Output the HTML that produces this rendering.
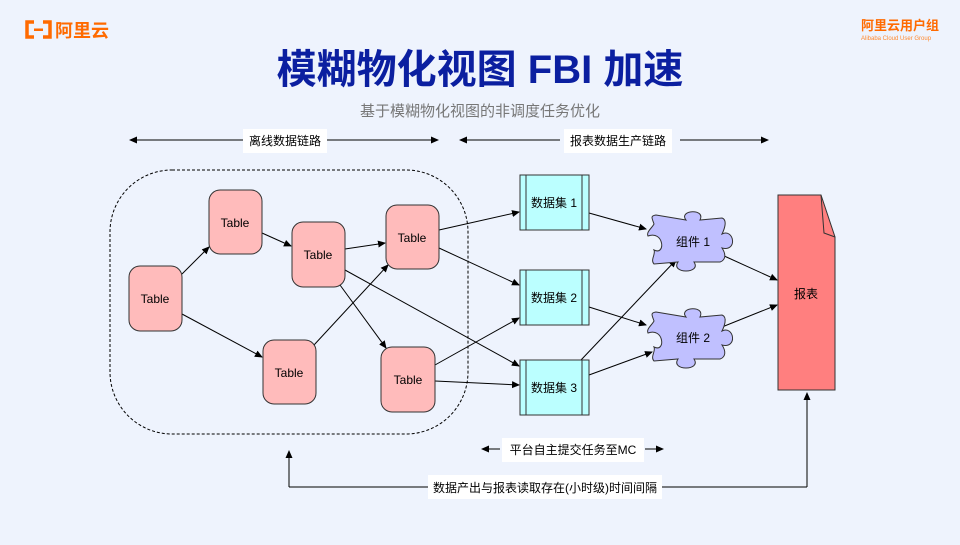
<!DOCTYPE html>
<html><head><meta charset="utf-8"><style>
body{margin:0;width:960px;height:540px;background:#EEF3FD;overflow:hidden;font-family:"Liberation Sans","Noto Sans CJK SC",sans-serif}
</style></head><body>
<svg width="960" height="540" viewBox="0 0 960 540" xmlns="http://www.w3.org/2000/svg" font-family="Liberation Sans, Noto Sans CJK SC, sans-serif">
<defs>
<marker id="a" markerWidth="8" markerHeight="8" refX="7" refY="4" orient="auto" markerUnits="userSpaceOnUse"><path d="M0,0.5 L8,4 L0,7.5 Z" fill="#000"/></marker>
<g id="pz"><path d="M-38,-18 C-40,-24 -42,-26 -36,-27 L-6,-22 C-14,-32 14,-34 8,-22 L30,-24 C36,-22 32,-12 30,-8 C42,-14 46,10 30,6 C34,12 34,18 28,20 L2,20 C10,32 -22,32 -14,20 L-38,22 C-42,18 -36,12 -38,8 C-26,14 -28,-12 -44,-6 C-46,-10 -40,-14 -38,-18 Z" fill="#C0C0FF" stroke="#333" stroke-width="1"/></g>
</defs>
<g fill="none" stroke="#FF6A00" stroke-width="3.5"><path d="M34,22 H27 V37 H34"/><path d="M43,22 H50 V37 H43"/></g>
<rect x="34" y="28.5" width="9" height="2.5" fill="#FF6A00"/>
<text x="55" y="37" font-size="18" font-weight="bold" fill="#FF6A00">阿里云</text>
<text x="861" y="30" font-size="13" font-weight="bold" fill="#FF6A00">阿里云用户组</text>
<text x="861" y="40" font-size="6" fill="#FF8A30">Alibaba Cloud User Group</text>
<text x="480" y="83" font-size="40" font-weight="bold" fill="#0B1FA0" text-anchor="middle">模糊物化视图 FBI 加速</text>
<text x="480" y="116" font-size="15" fill="#777" text-anchor="middle">基于模糊物化视图的非调度任务优化</text>
<g stroke="#000" stroke-width="1" marker-end="url(#a)">
<line x1="250" y1="140" x2="130" y2="140"/><line x1="320" y1="140" x2="438" y2="140"/>
<line x1="560" y1="140" x2="460" y2="140"/><line x1="680" y1="140" x2="768" y2="140"/>
<line x1="500" y1="449" x2="482" y2="449"/><line x1="645" y1="449" x2="663" y2="449"/>
</g>
<rect x="243" y="129" width="84" height="24" fill="#fff"/>
<text x="285" y="145" font-size="12" text-anchor="middle">离线数据链路</text>
<rect x="564" y="129" width="108" height="24" fill="#fff"/>
<text x="618" y="145" font-size="12" text-anchor="middle">报表数据生产链路</text>
<rect x="502" y="438" width="142" height="24" fill="#fff"/>
<text x="573" y="454" font-size="12" text-anchor="middle">平台自主提交任务至MC</text>
<rect x="110" y="170" width="358" height="264" rx="62" fill="none" stroke="#000" stroke-dasharray="3,2" stroke-width="1"/>
<g stroke="#000" stroke-width="1" marker-end="url(#a)">
<line x1="182" y1="274" x2="209" y2="247"/>
<line x1="182" y1="314" x2="262" y2="357"/>
<line x1="262" y1="233" x2="291" y2="246"/>
<line x1="345" y1="249" x2="385" y2="243"/>
<line x1="340" y1="285" x2="386" y2="348"/>
<line x1="314" y1="345" x2="388" y2="265"/>
<line x1="345" y1="270" x2="519" y2="366"/>
<line x1="439" y1="230" x2="519" y2="212"/>
<line x1="439" y1="248" x2="519" y2="285"/>
<line x1="435" y1="365" x2="519" y2="318"/>
<line x1="435" y1="381" x2="519" y2="385"/>
<line x1="589" y1="213" x2="646" y2="229"/>
<line x1="589" y1="307" x2="646" y2="325"/>
<line x1="581" y1="360" x2="676" y2="260"/>
<line x1="589" y1="375" x2="652" y2="352"/>
<line x1="722" y1="255" x2="777" y2="280"/>
<line x1="722" y1="327" x2="777" y2="305"/>
</g>
<g stroke="#000" stroke-width="1" fill="none">
<polyline points="289,487 289,451" marker-end="url(#a)"/>
<line x1="289" y1="487" x2="807" y2="487"/>
<polyline points="807,487 807,393" marker-end="url(#a)"/>
</g>
<rect x="428" y="475" width="234" height="24" fill="#fff"/>
<text x="545" y="492" font-size="12" text-anchor="middle">数据产出与报表读取存在(小时级)时间间隔</text>
<g fill="#FFBBBB" stroke="#333" stroke-width="1">
<rect x="129" y="266" width="53" height="65" rx="11"/>
<rect x="209" y="190" width="53" height="64" rx="11"/>
<rect x="292" y="222" width="53" height="65" rx="11"/>
<rect x="386" y="205" width="53" height="64" rx="11"/>
<rect x="263" y="340" width="53" height="64" rx="11"/>
<rect x="381" y="347" width="54" height="65" rx="11"/>
</g>
<g font-size="12" text-anchor="middle">
<text x="155" y="303">Table</text><text x="235" y="227">Table</text><text x="318" y="259">Table</text>
<text x="412" y="242">Table</text><text x="289" y="377">Table</text><text x="408" y="384">Table</text>
</g>
<g fill="#BBFFFF" stroke="#333" stroke-width="1">
<rect x="520" y="175" width="69" height="55"/><line x1="526" y1="175" x2="526" y2="230"/><line x1="582" y1="175" x2="582" y2="230"/>
<rect x="520" y="270" width="69" height="55"/><line x1="526" y1="270" x2="526" y2="325"/><line x1="582" y1="270" x2="582" y2="325"/>
<rect x="520" y="360" width="69" height="55"/><line x1="526" y1="360" x2="526" y2="415"/><line x1="582" y1="360" x2="582" y2="415"/>
</g>
<g font-size="12" text-anchor="middle">
<text x="554" y="207">数据集 1</text><text x="554" y="302">数据集 2</text><text x="554" y="392">数据集 3</text>
</g>
<use href="#pz" x="692" y="242"/>
<use href="#pz" x="692" y="339"/>
<text x="693" y="246" font-size="12" text-anchor="middle">组件 1</text>
<text x="693" y="342" font-size="12" text-anchor="middle">组件 2</text>
<path d="M778,195 H821 L835,237 V390 H778 Z" fill="#FF7F7F" stroke="#333" stroke-width="1"/>
<path d="M821,195 L824,233 L835,237" fill="none" stroke="#333" stroke-width="1"/>
<text x="806" y="298" font-size="12" text-anchor="middle">报表</text>
</svg>
</body></html>
